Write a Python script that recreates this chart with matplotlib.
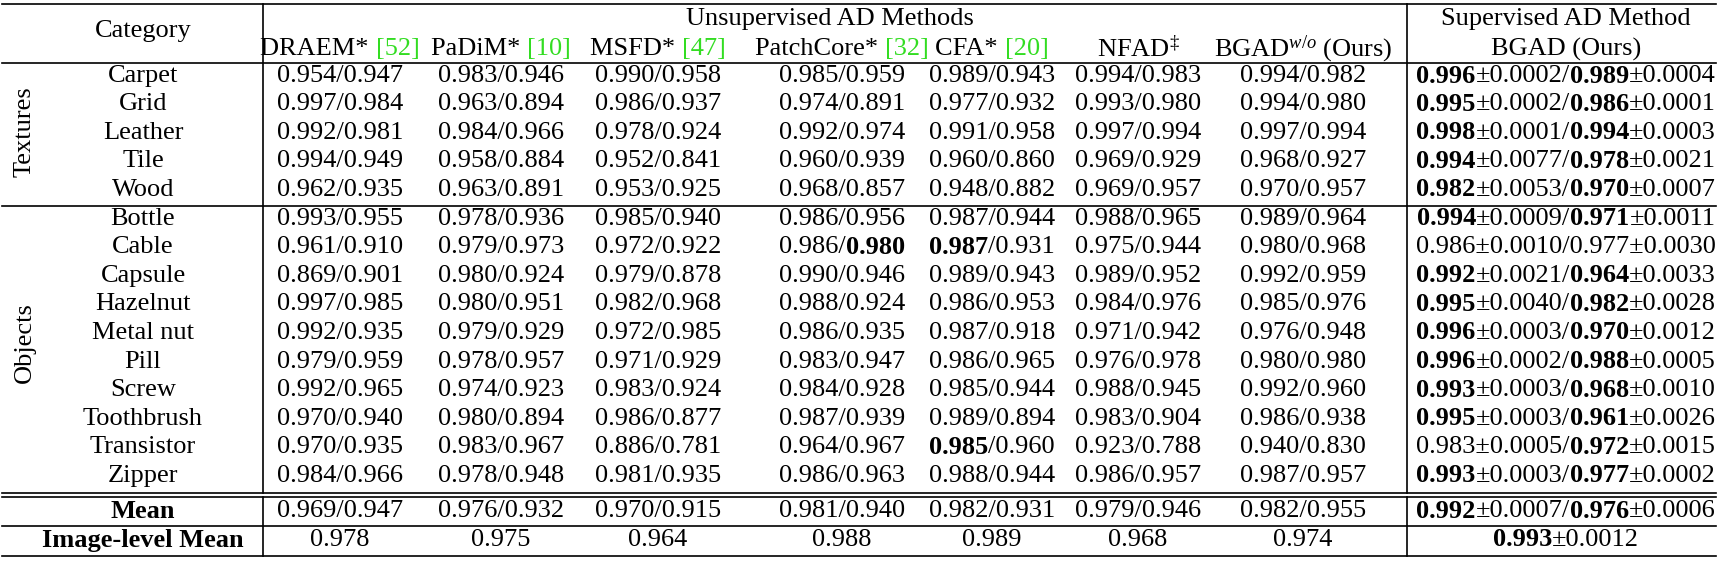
import matplotlib
matplotlib.use("Agg")
import matplotlib.pyplot as plt

plt.rcParams['font.family'] = ['Liberation Serif', 'DejaVu Serif']
plt.rcParams['mathtext.fontset'] = 'custom'
plt.rcParams['mathtext.rm'] = 'Liberation Serif'
plt.rcParams['mathtext.it'] = 'Liberation Serif:italic'
plt.rcParams['mathtext.bf'] = 'Liberation Serif:bold'

categories = ["Carpet", "Grid", "Leather", "Tile", "Wood",
              "Bottle", "Cable", "Capsule", "Hazelnut", "Metal nut", "Pill",
              "Screw", "Toothbrush", "Transistor", "Zipper"]
groups = ["Textures", "Objects"]

draem = ["0.954/0.947", "0.997/0.984", "0.992/0.981", "0.994/0.949", "0.962/0.935",
         "0.993/0.955", "0.961/0.910", "0.869/0.901", "0.997/0.985", "0.992/0.935",
         "0.979/0.959", "0.992/0.965", "0.970/0.940", "0.970/0.935", "0.984/0.966",
         "0.969/0.947", "0.978"]
padim = ["0.983/0.946", "0.963/0.894", "0.984/0.966", "0.958/0.884", "0.963/0.891",
         "0.978/0.936", "0.979/0.973", "0.980/0.924", "0.980/0.951", "0.979/0.929",
         "0.978/0.957", "0.974/0.923", "0.980/0.894", "0.983/0.967", "0.978/0.948",
         "0.976/0.932", "0.975"]
msfd = ["0.990/0.958", "0.986/0.937", "0.978/0.924", "0.952/0.841", "0.953/0.925",
        "0.985/0.940", "0.972/0.922", "0.979/0.878", "0.982/0.968", "0.972/0.985",
        "0.971/0.929", "0.983/0.924", "0.986/0.877", "0.886/0.781", "0.981/0.935",
        "0.970/0.915", "0.964"]
patchcore = ["0.985/0.959", "0.974/0.891", "0.992/0.974", "0.960/0.939", "0.968/0.857",
             "0.986/0.956", "0.986/**0.980**", "0.990/0.946", "0.988/0.924", "0.986/0.935",
             "0.983/0.947", "0.984/0.928", "0.987/0.939", "0.964/0.967", "0.986/0.963",
             "0.981/0.940", "0.988"]
cfa = ["0.989/0.943", "0.977/0.932", "0.991/0.958", "0.960/0.860", "0.948/0.882",
       "0.987/0.944", "**0.987**/0.931", "0.989/0.943", "0.986/0.953", "0.987/0.918",
       "0.986/0.965", "0.985/0.944", "0.989/0.894", "**0.985**/0.960", "0.988/0.944",
       "0.982/0.931", "0.989"]
nfad = ["0.994/0.983", "0.993/0.980", "0.997/0.994", "0.969/0.929", "0.969/0.957",
        "0.988/0.965", "0.975/0.944", "0.989/0.952", "0.984/0.976", "0.971/0.942",
        "0.976/0.978", "0.988/0.945", "0.983/0.904", "0.923/0.788", "0.986/0.957",
        "0.979/0.946", "0.968"]
bgad_wo = ["0.994/0.982", "0.994/0.980", "0.997/0.994", "0.968/0.927", "0.970/0.957",
           "0.989/0.964", "0.980/0.968", "0.992/0.959", "0.985/0.976", "0.976/0.948",
           "0.980/0.980", "0.992/0.960", "0.986/0.938", "0.940/0.830", "0.987/0.957",
           "0.982/0.955", "0.974"]
bgad = ["**0.996**±0.0002/**0.989**±0.0004", "**0.995**±0.0002/**0.986**±0.0001",
        "**0.998**±0.0001/**0.994**±0.0003", "**0.994**±0.0077/**0.978**±0.0021",
        "**0.982**±0.0053/**0.970**±0.0007", "**0.994**±0.0009/**0.971**±0.0011",
        "0.986±0.0010/0.977±0.0030", "**0.992**±0.0021/**0.964**±0.0033",
        "**0.995**±0.0040/**0.982**±0.0028", "**0.996**±0.0003/**0.970**±0.0012",
        "**0.996**±0.0002/**0.988**±0.0005", "**0.993**±0.0003/**0.968**±0.0010",
        "**0.995**±0.0003/**0.961**±0.0026", "0.983±0.0005/**0.972**±0.0015",
        "**0.993**±0.0003/**0.977**±0.0002", "**0.992**±0.0007/**0.976**±0.0006",
        "**0.993**±0.0012"]
GREEN = "#33dd22"
method_headers = [[("DRAEM* ", "k"), ("[52]", GREEN)],
                  [("PaDiM* ", "k"), ("[10]", GREEN)],
                  [("MSFD* ", "k"), ("[47]", GREEN)],
                  [("PatchCore* ", "k"), ("[32]", GREEN)],
                  [("CFA* ", "k"), ("[20]", GREEN)],
                  [("NFAD$^{\u2021}$", "k")],
                  [("BGAD$^{w/o}$ (Ours)", "k")],
                  [("BGAD (Ours)", "k")]]
columns = [draem, padim, msfd, patchcore, cfa, nfad, bgad_wo, bgad]

W, H = 1720, 561
fig = plt.figure(figsize=(W / 100, H / 100), dpi=100)
ax = fig.add_axes([0, 0, 1, 1])
ax.set_xlim(0, W)
ax.set_ylim(H, 0)
ax.axis('off')
FS = 19
renderer = fig.canvas.get_renderer()


def draw_segments(xc, y, segs):
    texts = []
    for s, c, wgt in segs:
        t = ax.text(0, y, s, color=c, fontweight=wgt, fontsize=FS, ha='left', va='center')
        texts.append(t)
    widths = [t.get_window_extent(renderer).width for t in texts]
    x = xc - sum(widths) / 2
    for t, w in zip(texts, widths):
        t.set_x(x)
        x += w


def cell(xc, y, s):
    parts = s.split("**")
    segs = [(p, 'k', 'bold' if i % 2 else 'normal') for i, p in enumerate(parts) if p]
    draw_segments(xc, y, segs)


col_x = [340, 501, 658, 842, 992, 1138, 1303, 1566]
cat_x = 143
row_y = ([76 + i * 28.4 for i in range(5)] + [218.5 + i * 28.6 for i in range(10)]
         + [511, 540])

lw = 1.2
x0, x1, xv, xv2 = 2, 1716, 263, 1407
for yy in (3.5, 62.5, 206, 493, 497, 525.5, 556):
    ax.plot([x0, x1], [yy, yy], 'k', lw=lw)
for xx in (xv, xv2):
    ax.plot([xx, xx], [3.5, 493], 'k', lw=lw)
    ax.plot([xx, xx], [497, 556], 'k', lw=lw)

ax.text(cat_x, 31, "Category", fontsize=FS, ha='center', va='center')
ax.text(830, 19, "Unsupervised AD Methods", fontsize=FS, ha='center', va='center')
ax.text(1566, 19, "Supervised AD Method", fontsize=FS, ha='center', va='center')
for xc, h in zip(col_x, method_headers):
    draw_segments(xc, 49, [(s, c, 'normal') for s, c in h])

ax.text(25, 132, groups[0], fontsize=FS, rotation=90, ha='center', va='center')
ax.text(25, 343, groups[1], fontsize=FS, rotation=90, ha='center', va='center')

for y, c in zip(row_y, categories):
    ax.text(cat_x, y, c, fontsize=FS, ha='center', va='center')
ax.text(cat_x, row_y[15], "Mean", fontsize=FS, fontweight='bold', ha='center', va='center')
ax.text(cat_x, row_y[16], "Image-level Mean", fontsize=FS, fontweight='bold', ha='center', va='center')

for xc, col in zip(col_x, columns):
    for y, v in zip(row_y, col):
        cell(xc, y, v)

fig.savefig("out.png", dpi=100, facecolor='white')
